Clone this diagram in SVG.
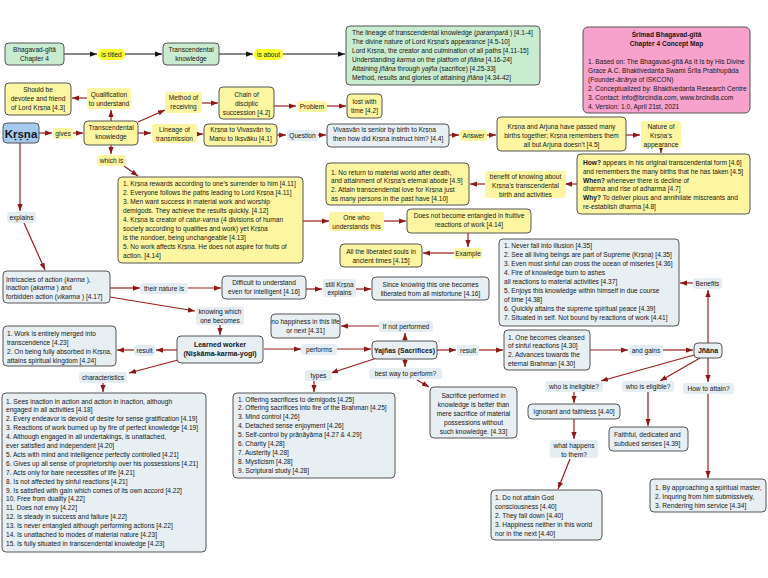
<svg xmlns="http://www.w3.org/2000/svg" width="768" height="578" viewBox="0 0 768 578">
<style>
.t{font-family:"Liberation Sans",Arial,sans-serif;font-size:6.6px;fill:#161616}
.c{text-anchor:middle}
.bd{font-weight:bold}
.i{font-style:italic}
.bx{stroke:#555;stroke-width:1}
.gr{fill:#c9ecd1}
.ye{fill:#fcf6a2}
.bl{fill:#e8eff3}
.pk{fill:#f7a2cd}
.ku{fill:#a6c9ef}
.lb{fill:#e4edf2}
.ly{fill:#fcf6a2}
.hy{fill:#ffff2e}
.cn line,.cn path{stroke:#9a1c1c;stroke-width:1.2;fill:none;marker-end:url(#ar)}
.cn .k{stroke:#111;marker-end:url(#ak)}
</style>
<defs>
<marker id="ar" viewBox="0 0 8 6" refX="8" refY="3" markerWidth="7" markerHeight="5.5" markerUnits="userSpaceOnUse" orient="auto"><path d="M0,0 L8,3 L0,6 z" fill="#8e1818"/></marker>
<marker id="ak" viewBox="0 0 8 6" refX="8" refY="3" markerWidth="7" markerHeight="5.5" markerUnits="userSpaceOnUse" orient="auto"><path d="M0,0 L8,3 L0,6 z" fill="#111"/></marker>
</defs>
<rect width="768" height="578" fill="#fff"/>

<g id="connectors" class="cn">
<line class="k" x1="64" y1="54" x2="97" y2="54"/>
<line class="k" x1="125" y1="54" x2="162" y2="54"/>
<line class="k" x1="219" y1="54" x2="253" y2="54"/>
<line class="k" x1="283" y1="54" x2="345" y2="54"/>
<line x1="88" y1="98" x2="72" y2="98"/>
<line x1="111" y1="121" x2="111" y2="110"/>
<line x1="138" y1="122" x2="165" y2="110"/>
<line x1="202" y1="103" x2="218" y2="103"/>
<line x1="274" y1="106" x2="296" y2="106"/>
<line x1="327" y1="106" x2="346" y2="106"/>
<line x1="39" y1="133" x2="52" y2="133"/>
<line x1="73" y1="133" x2="83" y2="133"/>
<line x1="138" y1="133" x2="151" y2="133"/>
<line x1="197" y1="134" x2="203" y2="134"/>
<line x1="277" y1="135" x2="286" y2="135"/>
<line x1="318" y1="135" x2="326" y2="135"/>
<line x1="449" y1="135" x2="459" y2="135"/>
<line x1="487" y1="135" x2="496" y2="135"/>
<line x1="626" y1="135" x2="640" y2="135"/>
<line x1="661" y1="148" x2="661" y2="153"/>
<line x1="577" y1="184" x2="565" y2="184"/>
<line x1="486" y1="184" x2="470" y2="184"/>
<line x1="111" y1="145" x2="111" y2="154"/>
<line x1="124" y1="166" x2="138" y2="176"/>
<line x1="303" y1="221" x2="329" y2="221"/>
<line x1="383" y1="221" x2="406" y2="221"/>
<line x1="468" y1="233" x2="468" y2="247"/>
<line x1="454" y1="253" x2="423" y2="253"/>
<line x1="20" y1="143" x2="20" y2="211"/>
<line x1="24" y1="223" x2="45" y2="270"/>
<line x1="110" y1="288" x2="140" y2="288"/>
<line x1="187" y1="288" x2="221" y2="288"/>
<line x1="306" y1="289" x2="322" y2="289"/>
<line x1="356" y1="289" x2="371" y2="289"/>
<line x1="110" y1="297" x2="195" y2="311"/>
<line x1="220" y1="325" x2="220" y2="335"/>
<line x1="177" y1="350" x2="156" y2="350"/>
<line x1="134" y1="350" x2="117" y2="350"/>
<line x1="178" y1="360" x2="129" y2="373"/>
<line x1="103" y1="383" x2="103" y2="392"/>
<line x1="264" y1="349" x2="301" y2="349"/>
<line x1="337" y1="349" x2="371" y2="349"/>
<line x1="405" y1="341" x2="405" y2="333"/>
<line x1="379" y1="326" x2="341" y2="326"/>
<line x1="437" y1="350" x2="456" y2="350"/>
<line x1="479" y1="350" x2="503" y2="350"/>
<line x1="590" y1="350" x2="628" y2="350"/>
<line x1="663" y1="350" x2="693" y2="350"/>
<line x1="708" y1="343" x2="708" y2="290"/>
<line x1="693" y1="283" x2="680" y2="283"/>
<line x1="694" y1="355" x2="601" y2="381"/>
<line x1="700" y1="358" x2="660" y2="381"/>
<line x1="708" y1="358" x2="708" y2="382"/>
<line x1="574" y1="392" x2="574" y2="403"/>
<line x1="574" y1="419" x2="574" y2="439"/>
<line x1="570" y1="459" x2="558" y2="489"/>
<line x1="648" y1="392" x2="648" y2="426"/>
<line x1="708" y1="394" x2="708" y2="478"/>
<line x1="377" y1="358" x2="331" y2="373"/>
<line x1="314" y1="381" x2="314" y2="392"/>
<line x1="405" y1="359" x2="405" y2="367"/>
<line x1="417" y1="380" x2="429" y2="387"/>
</g>

<g id="n_bg"><rect class="bx gr" x="5" y="43" width="59" height="22" rx="4"/>
<text class="t c" x="34.5" y="52">Bhagavad-gītā</text><text class="t c" x="34.5" y="61">Chapter 4</text></g>
<g id="l_titled"><rect class="hy" x="98" y="49" width="27" height="11" rx="5"/><text class="t c" x="111.5" y="56.7">is titled</text></g>
<g id="n_tk1"><rect class="bx gr" x="163" y="43" width="56" height="22" rx="4"/>
<text class="t c" x="191" y="52">Transcendental</text><text class="t c" x="191" y="61">knowledge</text></g>
<g id="l_about"><rect class="hy" x="254" y="49" width="29" height="11" rx="5"/><text class="t c" x="268.5" y="56.7">is about</text></g>
<g id="n_topics"><rect class="bx gr" x="346" y="26" width="194" height="59" rx="4"/>
<text class="t" x="352" y="34.5">The lineage of transcendental knowledge (<tspan class="i">paramparā</tspan> ) [4.1-4]</text>
<text class="t" x="352" y="43.5">The divine nature of Lord Kṛṣṇa’s appearance [4.5-10]</text>
<text class="t" x="352" y="52.5">Lord Kṛṣṇa, the creator and culmination of all paths [4.11-15]</text>
<text class="t" x="352" y="61.5">Understanding <tspan class="i">karma</tspan>  on the platfom of <tspan class="i">jñāna</tspan>  [4.16-24]</text>
<text class="t" x="352" y="70.5">Attaining <tspan class="i">jñāna</tspan>  through <tspan class="i">yajña</tspan>  (sacrifice) [4.25-33]</text>
<text class="t" x="352" y="79.5">Method, results and glories of attaining <tspan class="i">jñāna</tspan>  [4.34-42]</text></g>

<g id="n_info"><rect class="bx pk" x="583" y="27" width="167" height="86" rx="5"/>
<text class="t c bd" x="666.5" y="36.5">Śrīmad Bhagavad-gītā</text>
<text class="t c bd" x="666.5" y="45.5">Chapter 4 Concept Map</text>
<text class="t" x="588" y="64">1. Based on: The Bhagavad-gītā As It Is by His Divine</text>
<text class="t" x="588" y="73">Grace A.C. Bhaktivedanta Swami Śrīla Prabhupāda</text>
<text class="t" x="588" y="81.5">(Founder-<tspan class="i">ācārya</tspan>  of ISKCON)</text>
<text class="t" x="588" y="90.5">2. Conceptualized by: Bhaktivedanta Research Centre</text>
<text class="t" x="588" y="99.5">3. Contact: info@brcindia.com, www.brcindia.com</text>
<text class="t" x="588" y="108.5">4. Version: 1.0, April 21st, 2021</text></g>

<g id="n_devotee"><rect class="bx ye" x="5" y="83" width="66" height="32" rx="4"/>
<text class="t c" x="38" y="92">Should be</text><text class="t c" x="38" y="101">devotee and friend</text><text class="t c" x="38" y="110">of Lord Kṛṣṇa [4.3]</text></g>
<g id="l_qual"><rect class="ly" x="87" y="88" width="44" height="21" rx="3"/>
<text class="t c" x="109" y="96.5">Qualification</text><text class="t c" x="109" y="105.5">to understand</text></g>
<g id="l_method"><rect class="ly" x="165" y="92" width="37" height="21" rx="3"/>
<text class="t c" x="183.5" y="100">Method of</text><text class="t c" x="183.5" y="109">receiving</text></g>
<g id="n_chain"><rect class="bx ye" x="219" y="87" width="55" height="32" rx="4"/>
<text class="t c" x="246.5" y="97">Chain of</text><text class="t c" x="246.5" y="106">disciplic</text><text class="t c" x="246.5" y="115">succession [4.2]</text></g>
<g id="l_problem"><rect class="ly" x="297" y="101" width="30" height="11" rx="3"/><text class="t c" x="312" y="108.7">Problem</text></g>
<g id="n_lost"><rect class="bx ye" x="347" y="94" width="35" height="24" rx="4"/>
<text class="t c" x="364.5" y="103.5">lost with</text><text class="t c" x="364.5" y="112.5">time [4.2]</text></g>

<g id="n_krsna"><rect class="bx ku" x="3" y="123" width="36" height="20" rx="4"/>
<text class="t c bd" x="21" y="137.5" style="font-size:11.5px">Kṛṣṇa</text></g>
<g id="l_gives"><rect class="ly" x="53" y="128" width="20" height="11" rx="3"/><text class="t c" x="63" y="135.7">gives</text></g>
<g id="n_tk2"><rect class="bx ye" x="84" y="121" width="54" height="24" rx="4"/>
<text class="t c" x="111" y="130">Transcendental</text><text class="t c" x="111" y="139">knowledge</text></g>
<g id="l_lineage"><rect class="ly" x="152" y="124" width="45" height="19" rx="3"/>
<text class="t c" x="174.5" y="131.5">Lineage of</text><text class="t c" x="174.5" y="140.5">transmission</text></g>
<g id="n_viv"><rect class="bx ye" x="204" y="124" width="73" height="22" rx="4"/>
<text class="t c" x="240.5" y="131.5">Kṛṣṇa to Vivasvān to</text><text class="t c" x="240.5" y="140.5">Manu to Ikṣvāku [4.1]</text></g>
<g id="l_question"><rect class="lb" x="287" y="130" width="31" height="11" rx="3"/><text class="t c" x="302.5" y="137.7">Question</text></g>
<g id="n_senior"><rect class="bx bl" x="327" y="124" width="122" height="23" rx="4"/>
<text class="t" x="333" y="131.5">Vivasvān is senior by birth to Kṛṣṇa</text><text class="t" x="333" y="140.5">then how did Kṛṣṇa instruct him? [4.4]</text></g>
<g id="l_answer"><rect class="ly" x="460" y="130" width="27" height="11" rx="3"/><text class="t c" x="473.5" y="137.7">Answer</text></g>
<g id="n_births"><rect class="bx ye" x="497" y="117" width="129" height="34" rx="4"/>
<text class="t c" x="561.5" y="128.5">Kṛṣṇa and Arjuna have passed many</text><text class="t c" x="561.5" y="137.5">births together; Kṛṣṇa remembers them</text><text class="t c" x="561.5" y="146.5">all but Arjuna doesn’t [4.5]</text></g>
<g id="l_nature"><rect class="ly" x="641" y="121" width="40" height="27" rx="3"/>
<text class="t c" x="661" y="128.5">Nature of</text><text class="t c" x="661" y="137.5">Kṛṣṇa’s</text><text class="t c" x="661" y="146.5">appearance</text></g>
<g id="n_how"><rect class="bx ye" x="577" y="154" width="173" height="60" rx="4"/>
<text class="t" x="583" y="165"><tspan class="bd">How?</tspan> appears in his original transcendental form [4.6]</text>
<text class="t" x="583" y="173.8">and remembers the many births that he has taken [4.5]</text>
<text class="t" x="583" y="182.6"><tspan class="bd">When?</tspan> whenever there is decline of</text>
<text class="t" x="583" y="191.4">dharma and rise of adharma [4.7]</text>
<text class="t" x="583" y="200.2"><tspan class="bd">Why?</tspan> To deliver pious and annihilate miscreants and</text>
<text class="t" x="583" y="209">re-establish dharma [4.8]</text></g>
<g id="l_benefit"><rect class="ly" x="485" y="171" width="81" height="27" rx="3"/>
<text class="t c" x="525.5" y="179">benefit of knowing about</text><text class="t c" x="525.5" y="188">Kṛṣṇa’s transcendental</text><text class="t c" x="525.5" y="197">birth and activities</text></g>
<g id="n_noreturn"><rect class="bx ye" x="326" y="163" width="143" height="42" rx="4"/>
<text class="t" x="331" y="174.5">1. No return to material world after death,</text>
<text class="t" x="331" y="183.3">and attainment of Kṛṣṇa’s eternal abode [4.9]</text>
<text class="t" x="331" y="192.1">2. Attain transcendental love for Kṛṣṇa just</text>
<text class="t" x="331" y="200.9">as many persons in the past have [4.10]</text></g>
<g id="l_whichis"><rect class="ly" x="97" y="155" width="29" height="11" rx="3"/><text class="t c" x="111.5" y="162.7">which is</text></g>
<g id="n_list"><rect class="bx ye" x="118" y="177" width="185" height="86" rx="4"/>
<text class="t" x="123" y="186.3">1. Kṛṣṇa rewards according to one’s surrender to him [4.11]</text>
<text class="t" x="123" y="195.2">2. Everyone follows the paths leading to Lord Kṛṣṇa [4.11]</text>
<text class="t" x="123" y="204.1">3. Men want success in material work and worship</text>
<text class="t" x="123" y="213">demigods. They achieve the results quickly. [4.12]</text>
<text class="t" x="123" y="221.9">4. Kṛṣṇa is creator of <tspan class="i">catur-varṇa</tspan>  (4 divisions of human</text>
<text class="t" x="123" y="230.8">society according to qualities and work) yet Kṛṣṇa</text>
<text class="t" x="123" y="239.7">is the nondoer, being unchangeable [4.13]</text>
<text class="t" x="123" y="248.6">5. No work affects Kṛṣṇa. He does not aspire for fruits of</text>
<text class="t" x="123" y="257.5">action. [4.14]</text></g>
<g id="l_onewho"><rect class="ly" x="329" y="212" width="55" height="19" rx="3"/>
<text class="t c" x="356.5" y="219.5">One who</text><text class="t c" x="356.5" y="228.5">understands this</text></g>
<g id="n_entangled"><rect class="bx ye" x="407" y="209" width="124" height="24" rx="4"/>
<text class="t c" x="469" y="217.5">Does not become entangled in fruitive</text><text class="t c" x="469" y="226.5">reactions of work [4.14]</text></g>
<g id="l_example"><rect class="ly" x="454" y="248" width="28" height="11" rx="3"/><text class="t c" x="468" y="255.7">Example</text></g>
<g id="n_liberated"><rect class="bx ye" x="340" y="244" width="82" height="23" rx="4"/>
<text class="t c" x="381" y="253.5">All the liberated souls in</text><text class="t c" x="381" y="262.5">ancient times [4.15]</text></g>

<g id="l_explains"><rect class="lb" x="7" y="212" width="29" height="11" rx="3"/><text class="t c" x="21.5" y="219.7">explains</text></g>
<g id="n_intricacies"><rect class="bx bl" x="3" y="271" width="107" height="32" rx="4"/>
<text class="t" x="6" y="281.5">Intricacies of action (<tspan class="i">karma</tspan> ),</text>
<text class="t" x="6" y="290">inaction (<tspan class="i">akarma</tspan> ) and</text>
<text class="t" x="6" y="298.5">forbidden action (<tspan class="i">vikarma</tspan> ) [4.17]</text></g>
<g id="l_nature2"><rect class="lb" x="140" y="283" width="48" height="11" rx="3"/><text class="t c" x="164" y="290.7">their nature is</text></g>
<g id="n_difficult"><rect class="bx bl" x="222" y="276" width="84" height="23" rx="4"/>
<text class="t c" x="264" y="285">Difficult to understand</text><text class="t c" x="264" y="294">even for intelligent [4.16]</text></g>
<g id="l_still"><rect class="lb" x="323" y="279" width="33" height="18" rx="3"/>
<text class="t c" x="339.5" y="286.5">still Kṛṣṇa</text><text class="t c" x="339.5" y="295">explains</text></g>
<g id="n_since"><rect class="bx bl" x="372" y="277" width="117" height="23" rx="4"/>
<text class="t c" x="430.5" y="286.5">Since knowing this one becomes</text><text class="t c" x="430.5" y="295.5">liberated from all misfortune [4.16]</text></g>
<g id="l_knowing"><rect class="lb" x="196" y="307" width="48" height="18" rx="3"/>
<text class="t c" x="220" y="313.5">knowing which</text><text class="t c" x="220" y="322.5">one becomes</text></g>
<g id="n_learned"><rect class="bx bl" x="177" y="336" width="86" height="27" rx="4"/>
<text class="t c bd" x="220" y="346.5" style="font-size:7px">Learned worker</text><text class="t c bd" x="220" y="355.5" style="font-size:7px">(Niṣkāma-karma-yogī)</text></g>
<g id="l_result1"><rect class="lb" x="134" y="345" width="21" height="11" rx="3"/><text class="t c" x="144.5" y="352.7">result</text></g>
<g id="n_merged"><rect class="bx bl" x="3" y="326" width="113" height="40" rx="4"/>
<text class="t" x="7" y="336">1. Work is entirely merged into</text>
<text class="t" x="7" y="345"> transcendence [4.23]</text>
<text class="t" x="7" y="354">2. On being fully absorbed in Kṛṣṇa,</text>
<text class="t" x="7" y="363">attains spiritual kingdom [4.24]</text></g>
<g id="l_char"><rect class="lb" x="79" y="372" width="48" height="11" rx="3"/><text class="t c" x="103" y="379.7">characteristics</text></g>
<g id="n_char"><rect class="bx bl" x="2" y="393" width="204" height="159" rx="4"/>
<text class="t" x="6" y="403.5">1. Sees inaction in action and action in inaction, although</text>
<text class="t" x="6" y="412.4">engaged in all activities [4.18]</text>
<text class="t" x="6" y="421.3">2. Every endeavor is devoid of desire for sense gratification [4.19]</text>
<text class="t" x="6" y="430.2">3. Reactions of work burned up by fire of perfect knowledge [4.19]</text>
<text class="t" x="6" y="439.1">4. Although engaged in all undertakings, is unattached,</text>
<text class="t" x="6" y="448">ever satisfied and independent [4.20]</text>
<text class="t" x="6" y="456.9">5. Acts with mind and intelligence perfectly controlled [4.21]</text>
<text class="t" x="6" y="465.8">6. Gives up all sense of proprietorship over his possessions [4.21]</text>
<text class="t" x="6" y="474.7">7. Acts only for bare necessities of life [4.21]</text>
<text class="t" x="6" y="483.6">8. Is not affected by sinful reactions [4.21]</text>
<text class="t" x="6" y="492.5">9. Is satisfied with gain which comes of its own accord [4.22]</text>
<text class="t" x="6" y="501.4">10. Free from duality [4.22]</text>
<text class="t" x="6" y="510.3">11. Does not envy [4.22]</text>
<text class="t" x="6" y="519.2">12. Is steady in success and failure [4.22]</text>
<text class="t" x="6" y="528.1">13. Is never entangled although performing actions [4.22]</text>
<text class="t" x="6" y="537">14. Is unattached to modes of material nature [4.23]</text>
<text class="t" x="6" y="545.9">15. Is fully situated in transcendental knowledge [4.23]</text></g>

<g id="l_performs"><rect class="lb" x="301" y="344" width="36" height="11" rx="3"/><text class="t c" x="319" y="351.7">performs</text></g>
<g id="n_yajnas"><rect class="bx bl" x="372" y="341" width="65" height="18" rx="4"/>
<text class="t c bd" x="404.5" y="352.5" style="font-size:6.9px">Yajñas (Sacrifices)</text></g>
<g id="l_ifnot"><rect class="lb" x="379" y="321" width="54" height="11" rx="3"/><text class="t c" x="406" y="328.7">If not performed</text></g>
<g id="n_nohappy"><rect class="bx bl" x="271" y="314" width="69" height="24" rx="4"/>
<text class="t c" x="305.5" y="324">no happiness in this life</text><text class="t c" x="305.5" y="333">or next [4.31]</text></g>
<g id="l_result2"><rect class="lb" x="457" y="345" width="22" height="11" rx="3"/><text class="t c" x="468" y="352.7">result</text></g>
<g id="n_cleansed"><rect class="bx bl" x="504" y="330" width="86" height="40" rx="4"/>
<text class="t" x="508" y="339.5">1. One becomes cleansed</text>
<text class="t" x="508" y="348.3">of sinful reactions [4.30]</text>
<text class="t" x="508" y="357.1">2. Advances towards the</text>
<text class="t" x="508" y="365.9">eternal Brahman [4.30]</text></g>
<g id="l_gains"><rect class="lb" x="629" y="345" width="34" height="11" rx="3"/><text class="t c" x="646" y="352.7">and gains</text></g>
<g id="n_jnana"><rect class="bx bl" x="694" y="343" width="28" height="15" rx="4"/>
<text class="t c bd" x="708" y="353" style="font-size:7px">Jñāna</text></g>
<g id="l_benefits"><rect class="lb" x="693" y="278" width="29" height="11" rx="3"/><text class="t c" x="707.5" y="285.7">Benefits</text></g>
<g id="n_benefits"><rect class="bx bl" x="499" y="239" width="180" height="87" rx="4"/>
<text class="t" x="504" y="247.5">1. Never fall into illusion [4.35]</text>
<text class="t" x="504" y="256.6">2. See all living beings are part of Supreme (Kṛṣṇa) [4.35]</text>
<text class="t" x="504" y="265.7">3. Even most sinful can cross the ocean of miseries [4.36]</text>
<text class="t" x="504" y="274.8">4. Fire of knowledge burn to ashes</text>
<text class="t" x="504" y="283.9">all reactions to material activities [4.37]</text>
<text class="t" x="504" y="293">5. Enjoys this knowledge within himself in due course</text>
<text class="t" x="504" y="302.1">of time [4.38]</text>
<text class="t" x="504" y="311.2">6. Quickly attains the supreme spiritual peace [4.39]</text>
<text class="t" x="504" y="320.3">7. Situated in self. Not bound by reactions of work [4.41]</text></g>
<g id="l_inelig"><rect class="lb" x="545" y="381" width="58" height="11" rx="3"/><text class="t c" x="574" y="388.7">who is ineligible?</text></g>
<g id="l_elig"><rect class="lb" x="622" y="381" width="52" height="11" rx="3"/><text class="t c" x="648" y="388.7">who is eligible?</text></g>
<g id="l_attain"><rect class="lb" x="683" y="383" width="51" height="11" rx="3"/><text class="t c" x="708.5" y="390.7">How to attain?</text></g>
<g id="n_ignorant"><rect class="bx bl" x="528" y="404" width="92" height="15" rx="4"/>
<text class="t c" x="574" y="413.7">Ignorant and faithless [4.40]</text></g>
<g id="l_what"><rect class="lb" x="550" y="440" width="48" height="18" rx="3"/>
<text class="t c" x="574" y="447.5">what happens</text><text class="t c" x="574" y="456.5">to them?</text></g>
<g id="n_fall"><rect class="bx bl" x="491" y="490" width="111" height="50" rx="4"/>
<text class="t" x="495" y="499.5">1. Do not attain God</text>
<text class="t" x="495" y="508.5">consciousness [4.40]</text>
<text class="t" x="495" y="517.5">2. They fall down [4.40]</text>
<text class="t" x="495" y="526.5">3. Happiness neither in this world</text>
<text class="t" x="495" y="535.5">nor in the next [4.40]</text></g>
<g id="n_faithful"><rect class="bx bl" x="609" y="427" width="79" height="24" rx="4"/>
<text class="t" x="614" y="436.5">Faithful, dedicated and</text><text class="t" x="614" y="445.5">subdued senses [4.39]</text></g>
<g id="n_approach"><rect class="bx bl" x="650" y="479" width="116" height="33" rx="4"/>
<text class="t" x="655" y="489.5">1. By approaching a spiritual master,</text>
<text class="t" x="655" y="498.5">2. Inquring from him submissively,</text>
<text class="t" x="655" y="507.5">3. Rendering him service [4.34]</text></g>
<g id="l_types"><rect class="lb" x="305" y="370" width="27" height="11" rx="3"/><text class="t c" x="318.5" y="377.7">types</text></g>
<g id="n_types"><rect class="bx bl" x="233" y="393" width="162" height="85" rx="4"/>
<text class="t" x="238" y="401.5">1. Offering sacrifices to demigods [4.25]</text>
<text class="t" x="238" y="410.4">2. Offering sacrifices into fire of the Brahman [4.25]</text>
<text class="t" x="238" y="419.3">3. Mind control [4.26]</text>
<text class="t" x="238" y="428.2">4. Detached sense enjoyment [4.26]</text>
<text class="t" x="238" y="437.1">5. Self-control by prāṇāyāma [4.27 &amp; 4.29]</text>
<text class="t" x="238" y="446">6. Charity [4.28]</text>
<text class="t" x="238" y="454.9">7. Austerity [4.28]</text>
<text class="t" x="238" y="463.8">8. Mysticism [4.28]</text>
<text class="t" x="238" y="472.7">9. Scriptural study [4.28]</text></g>
<g id="l_best"><rect class="lb" x="369" y="368" width="73" height="11" rx="3"/><text class="t c" x="405.5" y="375.7">best way to perform?</text></g>
<g id="n_sacrifice"><rect class="bx bl" x="430" y="387" width="87" height="51" rx="4"/>
<text class="t c" x="473.5" y="397.5">Sacrifice performed in</text>
<text class="t c" x="473.5" y="406.5">knowledge is better than</text>
<text class="t c" x="473.5" y="415.5">mere sacrifice of material</text>
<text class="t c" x="473.5" y="424.5">possessions without</text>
<text class="t c" x="473.5" y="433.5">such knowledge. [4.33]</text></g>
</svg>
